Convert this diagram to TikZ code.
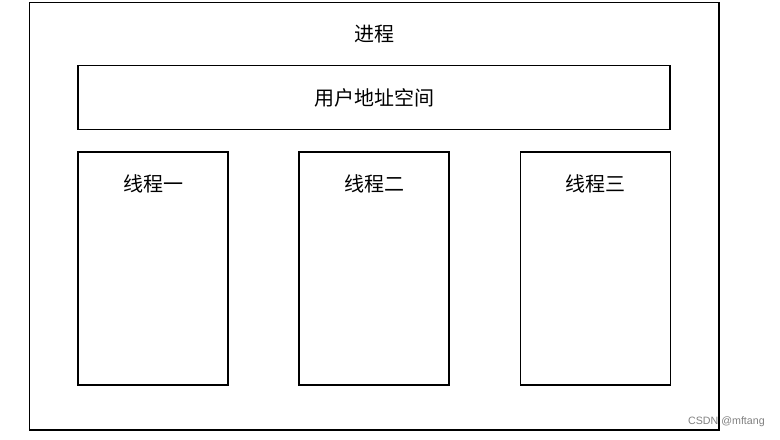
\documentclass[tikz,border=0pt]{standalone}
\usepackage{fontspec}
\newfontfamily\cjk{Noto Sans CJK SC}
\newfontfamily\wmfont{Liberation Sans}
\usetikzlibrary{positioning}
\tikzstyle{procbox} = [rectangle, draw, line width=0.9pt, minimum width=517.1pt, minimum height=320.6pt]
\tikzstyle{spacebox} = [rectangle, draw, line width=0.9pt, minimum width=444pt, minimum height=48pt, font=\cjk\fontsize{15pt}{18pt}\selectfont]
\tikzstyle{thread} = [rectangle, draw, line width=0.9pt, minimum width=112.5pt, minimum height=174.75pt]
\tikzstyle{novertex} = [draw=none, fill=none, text centered, font=\cjk\fontsize{15pt}{18pt}\selectfont]

\begin{document}
\begin{tikzpicture}[x=0.75pt, y=-0.75pt]
	\useasboundingbox (0,0) rectangle (780,439);
	% process frame
	\node [procbox] (proc) at (374.25,216.25) {};
	\node [novertex, yshift=-24.4pt] (title) at (proc.north) {进程};
	% threads
	\node [thread] (t1) at (153,268.5) {};
	\node [thread, right=52.4pt of t1] (t2) {};
	\node [thread, right=52.4pt of t2] (t3) {};
	% address space
	\node [spacebox, above=16pt of t2] (space) {用户地址空间};
	% thread names
	\node [novertex, yshift=-24pt] (n1) at (t1.north) {线程一};
	\node [novertex, yshift=-24pt] (n2) at (t2.north) {线程二};
	\node [novertex, yshift=-24pt] (n3) at (t3.north) {线程三};
	% watermark
	\node [anchor=east, text=gray, inner sep=0pt, font=\wmfont\fontsize{8pt}{9pt}\selectfont] (wm) at (765,422) {CSDN @mftang};
\end{tikzpicture}
\end{document}
